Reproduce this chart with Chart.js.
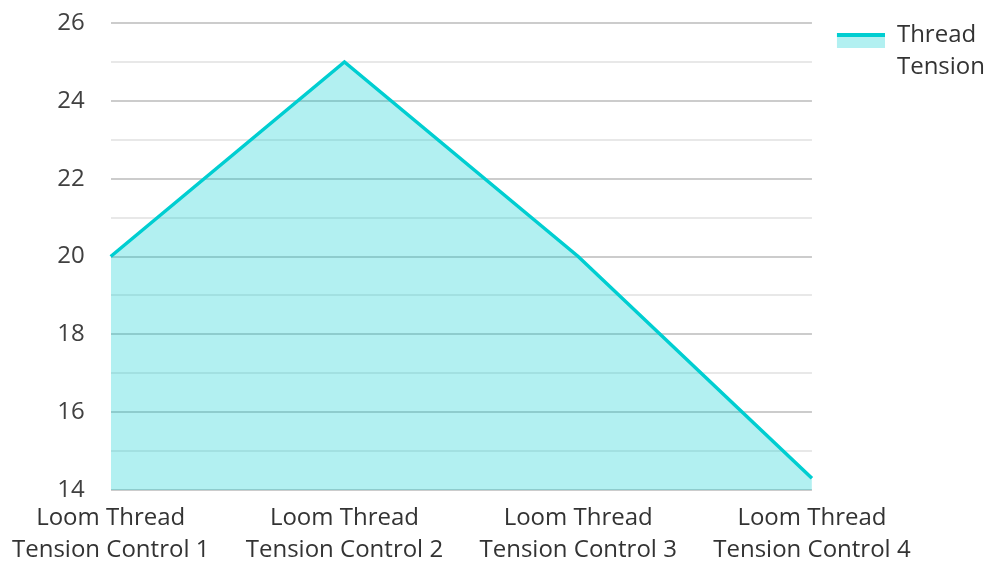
<!DOCTYPE html>
<html>
<head>
<meta charset="utf-8">
<script src="https://cdn.jsdelivr.net/npm/chart.js@4/dist/chart.umd.min.js"></script>
<style>
  html, body { margin: 0; padding: 0; background: #fff; }
  #wrap { width: 988px; height: 562px; }
</style>
</head>
<body>
<div id="wrap"><canvas id="chart"></canvas></div>
<script>
const categories = [
  ['Loom Thread', 'Tension Control 1'],
  ['Loom Thread', 'Tension Control 2'],
  ['Loom Thread', 'Tension Control 3'],
  ['Loom Thread', 'Tension Control 4']
];
const seriesName = 'Thread Tension';
const tensionValues = [20, 25, 20, 14.3];
const yTicks = [14, 16, 18, 20, 22, 24, 26];

const lineColor = 'rgb(0, 206, 209)';
const areaColor = 'rgba(0, 206, 209, 0.3)';
const fontFamily = '"Open Sans", "Noto Sans", sans-serif';

// Legend swatch: a light area block with the series line along its top edge,
// set inside a transparent margin so it sits clear of the plot
const SWATCH_W = 73, SWATCH_H = 26;
function makeSwatch() {
  const c = document.createElement('canvas');
  c.width = SWATCH_W; c.height = SWATCH_H;
  const g = c.getContext('2d');
  g.fillStyle = areaColor;
  g.fillRect(25, 11, 50, 15);
  g.fillStyle = lineColor;
  g.fillRect(25, 11, 50, 4);
  return c;
}

Chart.defaults.font.family = fontFamily;
Chart.defaults.font.size = 24;
Chart.defaults.color = '#404040';

new Chart(document.getElementById('chart'), {
  type: 'line',
  data: {
    labels: categories,
    datasets: [{
      label: seriesName,
      data: tensionValues,
      borderColor: lineColor,
      backgroundColor: areaColor,
      borderWidth: 3.5,
      fill: 'start',
      tension: 0,
      pointRadius: 0,
      pointHoverRadius: 0,
      pointStyle: makeSwatch()
    }]
  },
  options: {
    responsive: true,
    maintainAspectRatio: false,
    animation: false,
    layout: { padding: { top: 23, right: -7, bottom: 0, left: 0 } },
    plugins: {
      tooltip: { enabled: false },
      legend: {
        position: 'right',
        align: 'start',
        labels: {
          usePointStyle: true,
          pointStyleWidth: SWATCH_W,
          padding: 0,
          color: '#333',
          font: { size: 24, lineHeight: 1.333 },
          generateLabels(chart) {
            const items = Chart.defaults.plugins.legend.labels.generateLabels(chart);
            items.forEach(it => { it.text = it.text.split(' '); });
            return items;
          }
        }
      }
    },
    scales: {
      x: {
        offset: false,
        grid: { display: false, drawTicks: false },
        border: { display: false },
        afterFit(scale) { scale.height = 72; },
        ticks: {
          padding: 12,
          maxRotation: 0,
          autoSkip: false,
          color: '#333',
          font: { size: 24, lineHeight: 1.333 }
        }
      },
      y: {
        min: 14,
        max: 26,
        border: { display: false },
        grid: {
          drawTicks: true,
          tickLength: 23,
          tickColor: 'rgba(0,0,0,0)',
          lineWidth: 2,
          color: ctx => (ctx.tick && ctx.tick.value % 2 === 0) ? '#cccccc' : '#e8e8e8'
        },
        ticks: {
          stepSize: 1,
          padding: 3,
          color: '#404040',
          font: { size: 24, lineHeight: 1.2 },
          callback: v => (yTicks.includes(v) ? String(v) : '')
        }
      }
    }
  }
});
</script>
</body>
</html>
